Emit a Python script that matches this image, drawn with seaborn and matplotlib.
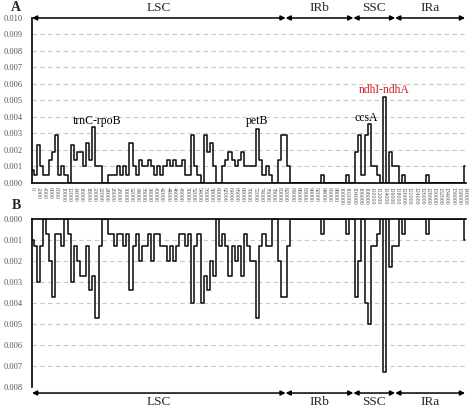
import numpy as np
import pandas as pd
import matplotlib
matplotlib.use('Agg')
import matplotlib.pyplot as plt
import seaborn as sns

# nucleotide diversity per 1000 bp window
pi_a = [0.0008, 0.0005, 0.0023, 0.001, 0.0005, 0.0005, 0.0014, 0.0019, 0.0029, 0.0005,
        0.001, 0.0005, 0.0, 0.0023, 0.0014, 0.0019, 0.0019, 0.001, 0.0024, 0.0014,
        0.0034, 0.001, 0.001, 0.0, 0.0, 0.0005, 0.0005, 0.0005, 0.001, 0.0005,
        0.001, 0.0005, 0.0024, 0.001, 0.0005, 0.0014, 0.001, 0.001, 0.0014, 0.001,
        0.0005, 0.001, 0.0005, 0.001, 0.0014, 0.001, 0.0014, 0.001, 0.001, 0.0014,
        0.0005, 0.0005, 0.0029, 0.001, 0.0005, 0.0, 0.0029, 0.0019, 0.0024, 0.001,
        0.0, 0.0, 0.001, 0.0014, 0.0019, 0.0014, 0.001, 0.0014, 0.0019, 0.001,
        0.001, 0.001, 0.001, 0.0033, 0.0014, 0.0005, 0.001, 0.0005, 0.0, 0.0,
        0.0014, 0.0029, 0.0029, 0.001, 0.0, 0.0, 0.0, 0.0, 0.0, 0.0,
        0.0, 0.0, 0.0, 0.0, 0.0005, 0.0, 0.0, 0.0, 0.0, 0.0,
        0.0, 0.0, 0.0005, 0.0, 0.0, 0.0019, 0.0029, 0.0005, 0.0029, 0.0036,
        0.001, 0.001, 0.0005, 0.0, 0.0052, 0.0, 0.0019, 0.001, 0.001, 0.0,
        0.0005, 0.0, 0.0, 0.0, 0.0, 0.0, 0.0, 0.0, 0.0005, 0.0,
        0.0, 0.0, 0.0, 0.0, 0.0, 0.0, 0.0, 0.0, 0.0, 0.0,
        0.001]

pi_b = [0.001, 0.0013, 0.003, 0.0013, 0.0, 0.0007, 0.002, 0.0037, 0.0007, 0.0007,
        0.0013, 0.0, 0.0007, 0.003, 0.0013, 0.002, 0.0027, 0.0027, 0.0013, 0.0034,
        0.0027, 0.0047, 0.0013, 0.0, 0.0, 0.0007, 0.0007, 0.0013, 0.0007, 0.0007,
        0.0013, 0.0007, 0.0034, 0.0013, 0.0007, 0.002, 0.0013, 0.0013, 0.0007, 0.002,
        0.0007, 0.0007, 0.0013, 0.0013, 0.002, 0.0013, 0.002, 0.0013, 0.0007, 0.0007,
        0.0013, 0.0007, 0.004, 0.0013, 0.0007, 0.004, 0.0027, 0.0034, 0.002, 0.0027,
        0.0, 0.0013, 0.0007, 0.0013, 0.0027, 0.0013, 0.002, 0.0013, 0.0027, 0.0007,
        0.0013, 0.002, 0.002, 0.0047, 0.0013, 0.0007, 0.0013, 0.0013, 0.0, 0.0,
        0.002, 0.0037, 0.0037, 0.0013, 0.0, 0.0, 0.0, 0.0, 0.0, 0.0,
        0.0, 0.0, 0.0, 0.0, 0.0007, 0.0, 0.0, 0.0, 0.0, 0.0,
        0.0, 0.0, 0.0007, 0.0, 0.0, 0.0037, 0.002, 0.0, 0.004, 0.005,
        0.0013, 0.0013, 0.0007, 0.0, 0.0073, 0.0, 0.0023, 0.0013, 0.0013, 0.0,
        0.0007, 0.0, 0.0, 0.0, 0.0, 0.0, 0.0, 0.0, 0.0007, 0.0,
        0.0, 0.0, 0.0, 0.0, 0.0, 0.0, 0.0, 0.0, 0.0, 0.0,
        0.001]

window = 1000
regions = ['LSC', 'IRb', 'SSC', 'IRa']
region_bounds = [0, 82000, 103900, 117400, 140000]

genes_a = ['trnC-rpoB', 'petB', 'ccsA', 'ndhI-ndhA']
gene_pos = [21000, 72600, 108000, 113900]
gene_y = [0.0034, 0.0034, 0.0036, 0.0053]
gene_colors = ['black', 'black', 'black', '#d0202a']

xticks = list(range(0, 140001, 2000))

df = pd.DataFrame({'pos': np.arange(len(pi_a)) * window, 'A': pi_a, 'B': pi_b})

sns.set_style('white')
plt.rcParams['font.family'] = ['Liberation Serif', 'DejaVu Serif']

fig = plt.figure(figsize=(4.74, 4.13), dpi=100)
axA = fig.add_axes([0.0675, 0.557, 0.9156, 0.3995])
axB = fig.add_axes([0.0675, 0.063, 0.9156, 0.4068])

line_kw = dict(color='#111111', linewidth=1.15, drawstyle='steps-mid')
sns.lineplot(data=df, x='pos', y='A', ax=axA, **line_kw)
sns.lineplot(data=df, x='pos', y='B', ax=axB, **line_kw)

for ax in (axA, axB):
    ax.set_xlim(0, 140300)
    ax.set_xlabel('')
    ax.set_ylabel('')
    ax.spines['right'].set_visible(False)
    ax.spines['left'].set_color('black')
    ax.spines['left'].set_linewidth(1.2)
    ax.tick_params(axis='both', length=0)
    ax.tick_params(axis='y', pad=7, labelsize=6, labelcolor='#555555')
    ax.grid(False)

# top panel
axA.set_ylim(0, 0.010)
axA.set_yticks(np.arange(0, 0.0101, 0.001))
axA.set_yticklabels([f'{v:.3f}' for v in np.arange(0, 0.0101, 0.001)])
for v in np.arange(0.001, 0.0100, 0.001):
    axA.axhline(v, color='#c8c8c8', lw=0.8, ls=(0, (4, 3)), zorder=0)
axA.spines['top'].set_visible(False)
axA.spines['bottom'].set_color('black')
axA.spines['bottom'].set_linewidth(1.2)
axA.set_xticks(xticks)
axA.set_xticklabels([str(t) for t in xticks], rotation=270, fontsize=4.2,
                    color='#555555', va='top', ha='center')
axA.tick_params(axis='x', pad=3)

# bottom panel (inverted)
axB.set_ylim(0.008, 0)
axB.set_yticks(np.arange(0, 0.0081, 0.001))
axB.set_yticklabels([f'{v:.3f}' for v in np.arange(0, 0.0081, 0.001)])
for v in np.arange(0.001, 0.0081, 0.001):
    axB.axhline(v, color='#c8c8c8', lw=0.8, ls=(0, (4, 3)), zorder=0)
axB.spines['bottom'].set_visible(False)
axB.spines['top'].set_color('black')
axB.spines['top'].set_linewidth(1.2)
axB.set_xticks([])

# region arrows and labels
for ax, y_arrow, y_text in ((axA, 1.0, 1.058), (axB, -0.036, -0.092)):
    for name, x0, x1 in zip(regions, region_bounds[:-1], region_bounds[1:]):
        ax.annotate('', xy=(x1, y_arrow), xytext=(x0, y_arrow),
                    xycoords=('data', 'axes fraction'),
                    textcoords=('data', 'axes fraction'),
                    arrowprops=dict(arrowstyle='<|-|>', color='black', lw=1.1,
                                    shrinkA=0, shrinkB=0, mutation_scale=7),
                    annotation_clip=False)
        ax.text((x0 + x1) / 2, y_text, name, transform=ax.get_xaxis_transform(),
                ha='center', va='center', fontsize=9.5, clip_on=False)

# hotspot labels
for g, x, y, c in zip(genes_a, gene_pos, gene_y, gene_colors):
    axA.text(x, y, g, ha='center', va='bottom', fontsize=8.5, color=c)

fig.text(0.022, 0.983, 'A', fontsize=10, fontweight='bold', va='center')
fig.text(0.024, 0.503, 'B', fontsize=10, fontweight='bold', va='center')

fig.savefig('out.png', dpi=100)
